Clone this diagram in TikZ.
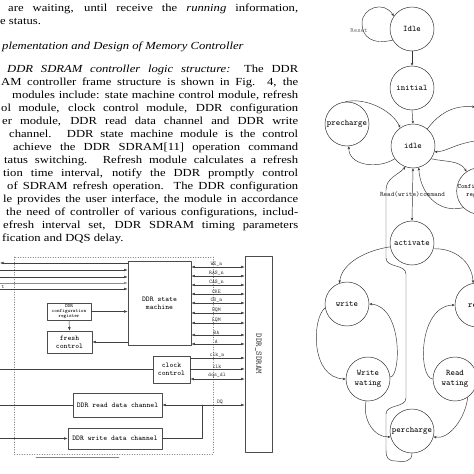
\documentclass[tikz,border=0pt]{standalone}
\usepackage{fontspec}
\setmainfont{Liberation Serif}[FakeStretch=1.17]
\usetikzlibrary{arrows.meta}
\tikzset{
  txt/.style={anchor=base west, inner sep=0pt, font=\fontsize{10.8}{13}\selectfont},
  blk/.style={draw=black!70, line width=0.7pt, inner sep=1pt, align=center, font=\ttfamily\fontsize{7.3}{8.2}\selectfont},
  sig/.style={draw=black!75, line width=0.45pt, >={Latex[length=3.5pt,width=2.6pt]}},
  sigl/.style={font=\ttfamily\fontsize{5.5}{6}\selectfont, inner sep=0.6pt, text=black!80},
  st/.style={draw=black!80, circle, line width=0.5pt, minimum size=44pt, inner sep=0pt, align=center, font=\ttfamily\fontsize{8.5}{9.5}\selectfont},
  trans/.style={draw=black!80, line width=0.45pt, >={Stealth[length=3pt,width=2.4pt]}},
}
\begin{document}
\begin{tikzpicture}[x=1pt, y=-1pt, line join=round, line cap=round]
		\useasboundingbox (0,0) rectangle (474,474);
		\fill[white] (0,0) rectangle (474,474);
		\clip (0,0) rectangle (474,474);
		% text column
		\node[txt] (l1) at (8,11) {\makebox[290pt][s]{are waiting, until receive the \textit{running} information,}};
		\node[txt] (l2) at (0,24) {e status.};
		\node[txt] (l3) at (2,49) {\textit{plementation and Design of Memory Controller}};
		\node[txt] (l4) at (7,72) {\makebox[291pt][s]{\textit{DDR SDRAM controller logic structure:} The DDR}};
		\node[txt] (l5) at (1,85) {\makebox[297pt][s]{AM controller frame structure is shown in Fig. 4, the}};
		\node[txt] (l6) at (12,98) {\makebox[286pt][s]{modules include: state machine control module, refresh}};
		\node[txt] (l7) at (1,111) {\makebox[297pt][s]{ol module, clock control module, DDR configuration}};
		\node[txt] (l8) at (2,124) {\makebox[296pt][s]{er module, DDR read data channel and DDR write}};
		\node[txt] (l9) at (9,137) {\makebox[289pt][s]{channel. DDR state machine module is the control}};
		\node[txt] (l10) at (13,150) {\makebox[285pt][s]{achieve the DDR SDRAM[11] operation command}};
		\node[txt] (l11) at (4,163) {\makebox[294pt][s]{tatus switching. Refresh module calculates a refresh}};
		\node[txt] (l12) at (3,176) {\makebox[295pt][s]{tion time interval, notify the DDR promptly control}};
		\node[txt] (l13) at (7,189) {\makebox[291pt][s]{of SDRAM refresh operation. The DDR configuration}};
		\node[txt] (l14) at (3,202) {\makebox[295pt][s]{le provides the user interface, the module in accordance}};
		\node[txt] (l15) at (6,215) {\makebox[292pt][s]{the need of controller of various configurations, includ-}};
		\node[txt] (l16) at (3,228) {\makebox[295pt][s]{efresh interval set, DDR SDRAM timing parameters}};
		\node[txt] (l17) at (2,241) {fication and DQS delay.};
		% controller frame
		\draw[dotted, black!60, line width=0.5pt] (14,257) rectangle (213,454);
		\node[blk, minimum width=63pt, minimum height=84pt] (sm) at (159.5,303) {DDR state\\machine};
		\node[blk, minimum width=44pt, minimum height=17pt, inner sep=0pt, font=\ttfamily\fontsize{5}{5.3}\selectfont] (cfg) at (69,311.5) {DDR\\configuration\\register};
		\node[blk, minimum width=45pt, minimum height=22pt] (fresh) at (69.5,342) {fresh\\control};
		\node[blk, minimum width=37pt, minimum height=27pt] (clk) at (171.5,369.5) {clock\\control};
		\node[blk, minimum width=89pt, minimum height=24pt] (rdch) at (117.5,405) {DDR read data channel};
		\node[blk, minimum width=94pt, minimum height=21pt] (wrch) at (115,438.5) {DDR write data channel};
		\node[blk, minimum width=27pt, minimum height=196pt] (sdram) at (258.5,354) {};
		\node[rotate=-90, font=\ttfamily\fontsize{8.5}{9}\selectfont, text=black!80] (sdramlbl) at (sdram.center) {DDR\_SDRAM};
		\path
		(0,263) coordinate (o1)
		(0,270) coordinate (i1)
		(0,277) coordinate (i2)
		(0,283) coordinate (i3)
		(0,289) coordinate (i4)
		(0,369.5) coordinate (i5)
		(0,405) coordinate (i6)
		(0,438.5) coordinate (i7)
		(202,405) coordinate (dqj)
		;
		\draw[sig,<-] (o1) -- (sm.west |- o1);
		\draw[sig,->] (i1) -- (sm.west |- i1);
		\draw[sig,->] (i2) -- (sm.west |- i2);
		\draw[sig,->,draw=black!45] (i3) -- (sm.west |- i3);
		\draw[sig,->] (i4) -- (sm.west |- i4);
		\node[sigl, anchor=south east] (tcut) at (5,289) {t};
		\draw[sig,->] (cfg.east) -- (sm.west |- cfg.east);
		\draw[sig,->] (cfg.south) -- (fresh.north);
		\draw[sig,->] (sm.west |- fresh.east) -- (fresh.east);
		\draw[sig] (i5) -- (clk.west);
		\draw[sig] (i6) -- (rdch.west);
		\draw[sig,->] (i7) -- (wrch.west);
		\foreach \y/\lab in {267/WE\_n, 276/RAS\_n, 285/CAS\_n, 294/CKE, 303/CS\_n, 313/UQM, 323/LQM, 335/BA, 344/A}
			\draw[sig,<->] (sm.east |- 0,\y) -- (sdram.west |- 0,\y) node[sigl, above, pos=0.47] {\lab};
		\draw[sig,->] (clk.east |- 0,358) -- (sdram.west |- 0,358) node[sigl, above, pos=0.49] {clk\_n};
		\draw[sig,->] (clk.east |- 0,369) -- (sdram.west |- 0,369) node[sigl, above, pos=0.49] {clk};
		\draw[sig,<->] (clk.east |- 0,379) -- (sdram.west |- 0,379) node[sigl, above, pos=0.49] {dqs\_dl};
		\draw[sig,<->] (rdch.east) -- (sdram.west |- rdch.east) node[sigl, above, pos=0.7] {DQ};
		\draw[sig] (wrch.east) -| (dqj);
		\draw[black!50, line width=0.4pt] (36,457) -- (119,457);
		% state machine
		\node[st] (Idle) at (412,29) {Idle};
		\node[st] (init) at (412,88) {initial};
		\node[st] (idle) at (413,146) {idle};
		\node[st] (prech) at (347,124) {precharge};
		\node[st, font=\ttfamily\fontsize{6.5}{7.5}\selectfont] (cfgreg) at (480,191) {Configuration\\register};
		\node[st] (act) at (412,243) {activate};
		\node[st] (wr) at (347,304) {write};
		\node[st] (rd) at (477,305) {read};
		\node[st] (wrw) at (368,379) {Write\\wating};
		\node[st] (rdw) at (455,379) {Read\\wating};
		\node[st] (perch) at (412,431) {percharge};
		\node[font=\ttfamily\fontsize{6.5}{7}\selectfont, text=black!55] (rst) at (359,31) {Reset};
		\path
		(475,107) coordinate (exA)
		(475,141) coordinate (exB)
		;
		\draw[trans,->] (Idle.210) .. controls (372,45) and (362,37) .. (362,23) .. controls (362,8) and (384,0) .. (Idle.145);
		\draw[trans,->] (Idle.south) -- (init.north);
		\draw[trans,->] (init.south) -- (idle.north);
		\draw[trans,->] (prech.95) .. controls (365,97) and (392,110) .. (idle.125);
		\draw[trans,->] (idle.215) .. controls (377,170) and (348,165) .. (prech.275);
		\draw[trans,->] (idle.50) .. controls (440,112) and (455,105) .. (exA);
		\draw[trans,->] (exB) .. controls (455,144) and (445,152) .. (idle.-15);
		\draw[trans,->] (idle.-35) .. controls (445,162) and (460,160) .. (cfgreg.125);
		\draw[trans,->] (cfgreg.225) .. controls (437,214) and (420,192) .. (idle.-75);
		\draw[trans,<->] (idle.south) -- (act.north) node[midway, font=\ttfamily\fontsize{6.8}{7}\selectfont, text=black!85] {Read(write)command};
		\draw[trans,->] (act.190) .. controls (368,250) and (342,262) .. (wr.110);
		\draw[trans,->] (act.-15) .. controls (455,248) and (472,262) .. (rd.100);
		\draw[trans,->] (wr.190) .. controls (312,318) and (310,378) .. (wrw.180);
		\draw[trans,->] (wrw.5) .. controls (401,377) and (403,306) .. (wr.0);
		\draw[trans,->] (wrw.265) .. controls (362,420) and (375,438) .. (perch.195);
		\draw[trans,->] (rdw.-55) .. controls (465,420) and (448,440) .. (perch.-15);
		\draw[trans,->] (rdw.180) .. controls (418,378) and (418,306) .. (rd.180);
		\draw[trans,->] (perch.south) .. controls (412,462) and (404,462) .. (396,461) .. controls (388,461) and (386,458) .. (386,450) -- (386,414) .. controls (386,404) and (406,408) .. (406,398) -- (406,274) .. controls (406,264) and (386,268) .. (386,258) -- (386,190) .. controls (386,178) and (398,175) .. (idle.-110);
\end{tikzpicture}
\end{document}
